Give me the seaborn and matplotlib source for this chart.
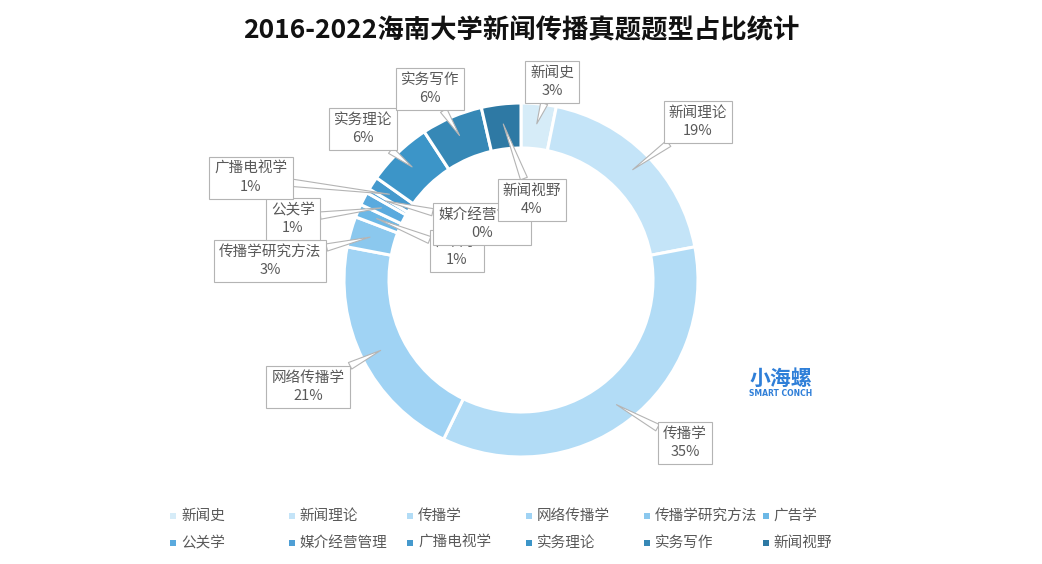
import matplotlib
matplotlib.use("Agg")
import matplotlib.pyplot as plt
import numpy as np
import seaborn as sns

# ---------------- data ----------------
title = "2016-2022海南大学新闻传播真题题型占比统计"
categories = ["新闻史", "新闻理论", "传播学", "网络传播学", "传播学研究方法", "广告学",
              "公关学", "媒介经营管理", "广播电视学", "实务理论", "实务写作", "新闻视野"]
shares = [3.2, 18.8, 35.2, 20.8, 2.8, 1.2, 1.2, 0.4, 1.2, 6.0, 5.6, 3.6]
pct_labels = ["3%", "19%", "35%", "21%", "3%", "1%", "1%", "0%", "1%", "6%", "6%", "4%"]
colors = ["#d6ecf8", "#c4e4f8", "#b2dcf6", "#a0d3f4", "#8bc8ee", "#6cb8e6",
          "#5aaade", "#4f9fd5", "#4599cd", "#3c95c8", "#3688b6", "#2e79a4"]

# label box centres (image pixel coords, y from top)
box_pos = [(552, 82), (698, 122), (685, 443), (308, 387), (270, 261), (457, 251),
           (293, 219), (482, 224), (251, 178), (363, 129), (430, 89), (532, 200)]

W, H = 1042, 564
sns.set_theme(style="white")
plt.rcParams['font.family'] = ['Noto Sans CJK SC', 'DejaVu Sans']

fig = plt.figure(figsize=(W / 100, H / 100), dpi=100)
ax = fig.add_axes([0, 0, 1, 1])

cx, cy, R, ring = 521, H - 280, 177, 45
wedges, _ = ax.pie(shares, colors=colors, startangle=90, counterclock=False,
                   center=(cx, cy), radius=R, frame=True,
                   wedgeprops=dict(width=ring, edgecolor="white", linewidth=2.2))
ax.set_xlim(0, W)
ax.set_ylim(0, H)
ax.set_aspect("equal")
ax.axis("off")

gray = "#595959"
for i, (w, cat, pl) in enumerate(zip(wedges, categories, pct_labels)):
    mid = np.deg2rad((w.theta1 + w.theta2) / 2)
    rt = R - 20
    tip = (cx + rt * np.cos(mid), cy + rt * np.sin(mid))
    bx, by = box_pos[i]
    ax.annotate(f"{cat}\n{pl}", xy=tip, xytext=(bx, H - by), ha="center", va="center",
                fontsize=10.5, color=gray, linespacing=1.35,
                bbox=dict(boxstyle="square,pad=0.35", fc="white", ec="#b4b4b4", lw=0.8),
                arrowprops=dict(arrowstyle="wedge,tail_width=0.5,shrink_factor=0.5",
                                fc="white", ec="#b4b4b4", lw=0.8, shrinkA=0, shrinkB=0),
                zorder=5)

# title
ax.text(521, H - 31, title, ha="center", va="center", fontsize=19,
        fontweight="black", color="#111111")

# legend (two rows of six)
for i, (cat, col) in enumerate(zip(categories, colors)):
    r, c = divmod(i, 6)
    x = 173 + c * 118.5
    y = H - (516 + r * 27)
    ax.scatter([x], [y], marker="s", s=20, color=col, linewidths=0, zorder=6)
    ax.text(x + 8, y, cat, ha="left", va="center", fontsize=10.5, color=gray)

# logo
ax.text(781, H - 378, "小海螺", ha="center", va="center", fontsize=15,
        fontweight="black", color="#2f7fd8")
ax.text(781, H - 394, "SMART CONCH", ha="center", va="center", fontsize=5.5,
        fontweight="bold", color="#2f7fd8", family=["DejaVu Sans"])

fig.savefig("out.png", dpi=100)
